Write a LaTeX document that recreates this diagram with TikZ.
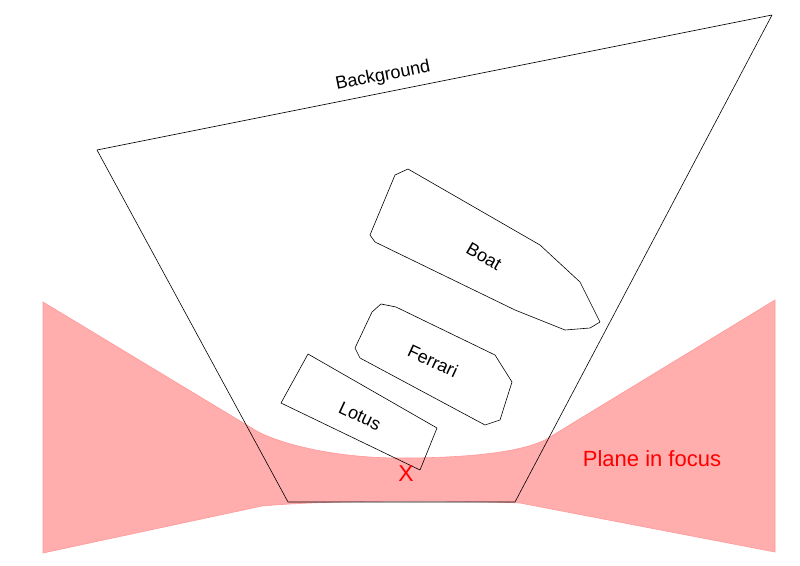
\documentclass[tikz,border=0pt]{standalone}
\usepackage{fontspec}
\setmainfont{Liberation Sans}
\begin{document}
\begin{tikzpicture}[x=1pt,y=-1pt]
\tikzstyle{outline}=[draw=black,line width=0.6pt,line join=round]
\tikzstyle{lbl}=[font=\fontsize{18}{20}\selectfont,inner sep=0]
\useasboundingbox (0,0) rectangle (800,565);

% depth of field
\path[fill=red!32,draw=red!40,line width=0.6pt] (43,302) -- (255,430)
  .. controls (275,442) and (330,458) .. (400,458)
  .. controls (470,458) and (520,452) .. (545,440)
  -- (775,300) -- (775,552) -- (520,503)
  .. controls (450,500) and (330,500) .. (262,506)
  -- (43,553) -- cycle;

% background plane
\draw[outline] (97,150) -- (772,15) -- (515,502) -- (288,502) -- cycle;
\node[lbl,rotate=11.3] (bg) at (383,76) {Background};

% objects
\draw[outline] (370,235) -- (395,175) -- (408,169) -- (540,245) -- (580,282)
  -- (600,322) -- (590,328) -- (565,330) -- (515,310) -- (375,242) -- cycle;
\node[lbl,rotate=-30] (boat) at (484,256) {Boat};
\draw[outline] (355,348) -- (372,312) -- (381,304) -- (396,307) -- (495,355)
  -- (512,382) -- (500,420) -- (485,425) -- (360,358) -- cycle;
\node[lbl,rotate=-25] (ferrari) at (433,361) {Ferrari};
\draw[outline] (308,354) -- (281,403) -- (420,470) -- (437,428) -- cycle;
\node[lbl,rotate=-25] (lotus) at (360,416) {Lotus};

\node[red,font=\fontsize{23}{24}\selectfont,inner sep=0] (x) at (406,474) {X};
\node[red,font=\fontsize{22}{24}\selectfont,inner sep=0] (focus) at (652,459) {Plane in focus};
\end{tikzpicture}
\end{document}
